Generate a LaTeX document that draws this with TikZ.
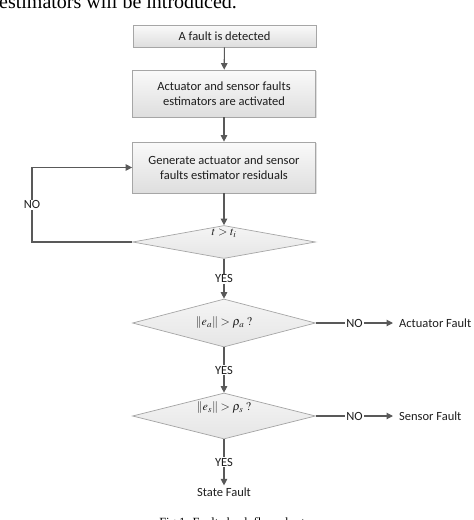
\documentclass[tikz,border=0pt]{standalone}
\usepackage{mathptmx}
\usepackage[no-math]{fontspec}
\setmainfont{Carlito}
\newfontfamily\pageserif{Liberation Serif}
\usetikzlibrary{arrows.meta,shapes.geometric,shadows}
\definecolor{boxedge}{RGB}{166,166,166}
\definecolor{flowgray}{RGB}{89,89,89}
\definecolor{inktext}{RGB}{30,30,30}

\begin{document}
\begin{tikzpicture}[x=1pt,y=-1pt,font=\fontsize{12.5}{15}\selectfont,text=inktext,
  procbox/.style={draw=boxedge,line width=0.7pt,top color=black!2,bottom color=black!13,
    drop shadow={shadow xshift=1.2pt,shadow yshift=-1.2pt,opacity=0.25},
    minimum width=183pt,align=center,inner sep=0pt},
  decision/.style={diamond,draw=boxedge,line width=0.7pt,top color=black!4,bottom color=black!10,inner sep=0pt,
    minimum width=183pt},
  flow/.style={draw=flowgray,line width=1.1pt,-{Triangle[length=6.5pt,width=6.5pt]}},
  answer/.style={inner sep=1pt,fill=white},
  condtext/.style={font=\fontsize{12}{14}\selectfont}]
\useasboundingbox (0,0) rectangle (474,520);
\clip (0,0) rectangle (474,520);
% surrounding page text, cut by the crop
\node[font=\pageserif\fontsize{20}{24}\selectfont,text=black,anchor=base west,inner sep=0pt] (introtext) at (-1,8) {estimators will be introduced.};
\node[font=\pageserif\fontsize{12.5}{15}\selectfont,text=black,anchor=base,inner sep=0pt] (figcaption) at (232,526.5) {Fig.1. Fault check flow chart};
% process boxes
\node[procbox,minimum height=22pt] (detect) at (224.5,36) {A fault is detected};
\node[procbox,minimum height=47pt] (activate) at (224,93.5) {Actuator and sensor faults\\estimators are activated};
\node[procbox,minimum height=51pt] (residual) at (224,167.5) {Generate actuator and sensor\\faults estimator residuals};
% decisions
\node[decision,minimum height=33pt,label={[condtext,yshift=9pt]center:$t>t_i$}] (timecheck) at (224,242) {};
\node[decision,minimum height=48pt,label={[condtext]center:$\|e_a\|>\rho_a\ ?$}] (actcheck) at (224,323) {};
\node[decision,minimum height=46pt,label={[condtext,yshift=8pt]center:$\|e_s\|>\rho_s\ ?$}] (sencheck) at (224,416) {};
% outcomes
\node[anchor=west,inner xsep=6pt] (actfault) at (393,323) {Actuator Fault};
\node[anchor=west,inner xsep=6pt] (senfault) at (393,416) {Sensor Fault};
\node[inner sep=2pt] (statefault) at (224,492) {State Fault};
\coordinate (loopcorner) at (32,242);
% connectors
\draw[flow] (detect) -- (activate);
\draw[flow] (activate) -- (residual);
\draw[flow] (residual) -- (timecheck);
\draw[flow] (timecheck.west) -- (loopcorner) |- (residual.west) node[answer,pos=0.25] {NO};
\draw[flow] (timecheck.south) -- (actcheck.north) node[answer,midway] {YES};
\draw[flow] (actcheck.south) -- (sencheck.north) node[answer,midway] {YES};
\draw[flow] (sencheck.south) -- (statefault.north) node[answer,midway] {YES};
\draw[flow] (actcheck.east) -- (actfault.west) node[answer,midway] {NO};
\draw[flow] (sencheck.east) -- (senfault.west) node[answer,midway] {NO};
\end{tikzpicture}
\end{document}
